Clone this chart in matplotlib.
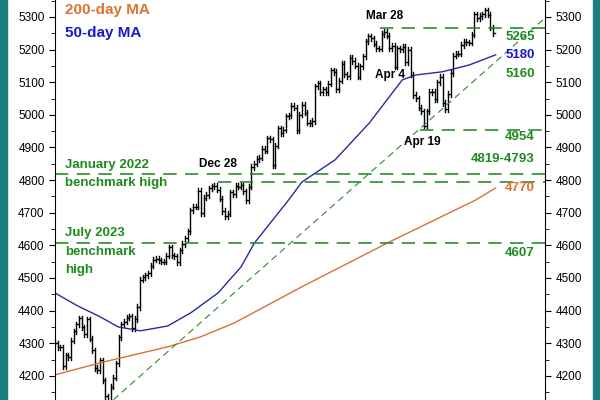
import matplotlib
matplotlib.use("Agg")
import matplotlib.pyplot as plt
from matplotlib.patches import Rectangle

plt.rcParams['font.family'] = ['Liberation Sans', 'DejaVu Sans']

closes = [4300, 4288,
    4288, 4229, 4263, 4258, 4308, 4336, 4358, 4376, 4349, 4327, 4373, 4314, 4278, 4224, 4217, 4248, 4186, 4137, 4117, 4167, 4194,
    4238, 4318, 4358, 4366, 4378, 4383, 4347, 4374, 4411, 4495, 4502, 4508, 4514, 4538, 4556, 4559, 4554, 4550, 4550, 4568,
    4594, 4569, 4567, 4549, 4585, 4604, 4622, 4643, 4707, 4719, 4719, 4768, 4698, 4746, 4754, 4775, 4781, 4783, 4770,
    4743, 4705, 4689, 4697, 4763, 4756, 4783, 4780, 4784, 4766, 4739, 4780, 4840, 4850, 4865, 4869, 4895, 4890, 4928, 4925, 4846,
    4906, 4959, 4943, 4955, 4995, 4998, 5027, 5022, 4953, 5001, 5030, 5006, 4976, 4975, 4981, 5088, 5097, 5070, 5078, 5069, 5096,
    5137, 5131, 5079, 5105, 5157, 5124, 5118, 5175, 5165, 5151, 5117, 5149, 5179, 5225, 5241, 5234, 5218, 5204, 5203, 5248, 5254,
    5243, 5205, 5211, 5147, 5204, 5202, 5209, 5161, 5199, 5123, 5061, 5051, 5022, 5011, 4967, 5011, 5070, 5071, 5048, 5100, 5116, 5036, 5018,
    5064, 5128, 5181, 5187, 5188, 5214, 5223, 5222, 5221, 5246, 5308, 5297, 5303, 5308, 5321, 5307, 5267, 5250]

# moving averages read at selected bar indices
ma50_idx = [0, 8.4, 17.0, 23.8, 32.2, 42.5, 51.1, 61.4, 70.1, 75.1, 88.0, 93.0, 105.5, 118.4, 130.8, 135.8, 145.9, 156.1, 166]
ma50_val = [4454, 4415, 4381, 4350, 4338, 4353, 4393, 4454, 4534, 4607, 4739, 4794, 4862, 4975, 5107, 5122, 5132, 5153, 5184]
ma200_idx = [0, 17.0, 42.5, 55.0, 67.5, 93.0, 125.9, 158.5, 166]
ma200_val = [4203, 4240, 4289, 4320, 4362, 4473, 4610, 4739, 4776]

levels_full = [4819, 4607]
level_4793 = 4793
level_5265 = 5265
level_4954 = 4954
trend_idx = [22.0, 183.8]
trend_val = [4127, 5291]

fig = plt.figure(figsize=(6, 4), dpi=100)
ax = fig.add_axes([55/600, 0, 490/600, 1])
n = len(closes)
ppb = 438 / (n - 1)
def xi(px):
    return (px - 55) / ppb

for i, c in enumerate(closes):
    p = closes[i-1] if i > 0 else c
    lo, hi = min(p, c) - 8, max(p, c) + 8
    ax.plot([i, i], [lo, hi], color='black', lw=1)
    ax.plot([i, i + 0.8], [c, c], color='black', lw=1)

ax.plot(ma50_idx, ma50_val, color='#2a2aa0', lw=1)
ax.plot(ma200_idx, ma200_val, color='#d8703a', lw=1)
dash = dict(color='#2e8b2e', lw=1.2, dashes=(8, 5))
for lv in levels_full:
    ax.axhline(lv, **dash)
ax.plot([xi(218), xi(545)], [level_4793]*2, **dash)
ax.plot([xi(380), xi(545)], [level_5265]*2, **dash)
ax.plot([xi(420), xi(545)], [level_4954]*2, **dash)
ax.plot(trend_idx, trend_val, color='#2e8b2e', lw=0.8, dashes=(6, 4))

ax.set_xlim(xi(55), xi(545))
ax.set_ylim(4126, 5352)
ax.set_xticks([])
ax.set_yticks(range(4200, 5301, 100))
ax.set_yticks(range(4150, 5351, 50), minor=True)
ax.tick_params(axis='y', which='both', direction='out', left=True, right=True,
               labelleft=True, labelright=True, labelsize=8.5, length=4)
ax.tick_params(axis='y', which='minor', length=3)
for s in ['top', 'bottom']:
    ax.spines[s].set_visible(False)

def ft(px, py, s, color, size, ha='left'):
    fig.text(px/600, 1 - py/400, s, color=color, fontsize=size, fontweight='bold', ha=ha, va='center')

ft(65, 10, '200-day MA', '#e07030', 11)
ft(65, 33, '50-day MA', '#1a1acc', 11)
g = '#1e8a1e'
ft(520, 37, '5265', g, 9.5, 'center')
ft(520, 55, '5180', '#1a1acc', 9.5, 'center')
ft(520, 74, '5160', g, 9.5, 'center')
ft(520, 137, '4954', g, 9.5, 'center')
ft(503, 159, '4819-4793', g, 9.5, 'center')
ft(520, 188, '4770', '#e07030', 9.5, 'center')
ft(520, 253, '4607', g, 9.5, 'center')
ft(385, 16, 'Mar 28', 'black', 8.5, 'center')
ft(390, 75, 'Apr 4', 'black', 8.5, 'center')
ft(422, 142, 'Apr 19', 'black', 8.5, 'center')
ft(218, 164, 'Dec 28', 'black', 8.5, 'center')
ft(65, 165, 'January 2022', g, 9.5)
ft(65, 183, 'benchmark high', g, 9.5)
ft(65, 233, 'July 2023', g, 9.5)
ft(65, 252, 'benchmark', g, 9.5)
ft(65, 270, 'high', g, 9.5)

teal = '#1b7d7d'
fig.patches.append(Rectangle((0, 0), 7/600, 1, transform=fig.transFigure, color=teal))
fig.patches.append(Rectangle((593/600, 0), 7/600, 1, transform=fig.transFigure, color=teal))
fig.savefig('out.png', dpi=100)
